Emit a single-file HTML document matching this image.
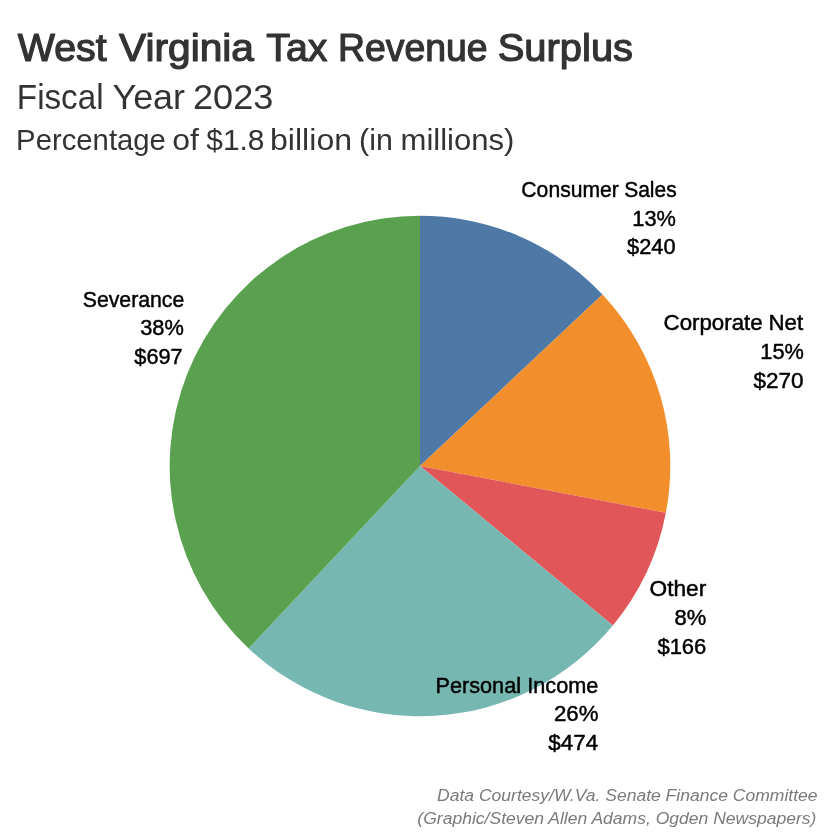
<!DOCTYPE html>
<html><head><meta charset="utf-8"><style>
html,body{margin:0;padding:0;background:#fff;width:840px;height:840px;overflow:hidden;}
svg{position:absolute;left:0;top:0;display:block;will-change:transform;font-family:"Liberation Sans",sans-serif;}
</style></head><body>
<svg width="840" height="840" viewBox="0 0 840 840">
<path fill="#4e79a7" d="M420 465.95L420.00 215.65A250.3 250.3 0 0 1 602.46 294.61Z"/>
<path fill="#f28e2b" d="M420 465.95L602.46 294.61A250.3 250.3 0 0 1 665.87 512.85Z"/>
<path fill="#e15759" d="M420 465.95L665.87 512.85A250.3 250.3 0 0 1 612.86 625.50Z"/>
<path fill="#76b7b2" d="M420 465.95L612.86 625.50A250.3 250.3 0 0 1 248.66 648.41Z"/>
<path fill="#59a14f" d="M420 465.95L248.66 648.41A250.3 250.3 0 0 1 420.00 215.65Z"/>
<g fill="#333333" stroke="#333333" stroke-width="1.2" stroke-linejoin="round">
<text x="17.72" y="61.10" font-size="38.4" textLength="88.95" lengthAdjust="spacingAndGlyphs">West</text>
<text x="118.98" y="61.10" font-size="38.4" textLength="135.05" lengthAdjust="spacingAndGlyphs">Virginia</text>
<text x="266.36" y="61.10" font-size="38.4" textLength="61.11" lengthAdjust="spacingAndGlyphs">Tax</text>
<text x="337.96" y="61.10" font-size="38.4" textLength="149.69" lengthAdjust="spacingAndGlyphs">Revenue</text>
<text x="497.75" y="61.10" font-size="38.4" textLength="135.27" lengthAdjust="spacingAndGlyphs">Surplus</text>
</g>
<g fill="#333333">
<text x="16.86" y="108.60" font-size="34.6" textLength="86.67" lengthAdjust="spacingAndGlyphs">Fiscal</text>
<text x="112.49" y="108.60" font-size="34.6" textLength="72.53" lengthAdjust="spacingAndGlyphs">Year</text>
<text x="192.94" y="108.60" font-size="34.6" textLength="80.40" lengthAdjust="spacingAndGlyphs">2023</text>
<text x="16.11" y="150.10" font-size="29.6" textLength="149.77" lengthAdjust="spacingAndGlyphs">Percentage</text>
<text x="172.17" y="150.10" font-size="29.6" textLength="26.69" lengthAdjust="spacingAndGlyphs">of</text>
<text x="206.28" y="150.10" font-size="29.6" textLength="58.21" lengthAdjust="spacingAndGlyphs">$1.8</text>
<text x="270.02" y="150.10" font-size="29.6" textLength="82.07" lengthAdjust="spacingAndGlyphs">billion</text>
<text x="359.04" y="150.10" font-size="29.6" textLength="33.78" lengthAdjust="spacingAndGlyphs">(in</text>
<text x="400.49" y="150.10" font-size="29.6" textLength="114.00" lengthAdjust="spacingAndGlyphs">millions)</text>
</g>
<g fill="#000000" stroke="#000000" stroke-width="0.45" stroke-linejoin="round">
<text x="521.36" y="197.00" font-size="21.4" textLength="97.49" lengthAdjust="spacingAndGlyphs">Consumer</text>
<text x="624.28" y="197.00" font-size="21.4" textLength="52.38" lengthAdjust="spacingAndGlyphs">Sales</text>
<text x="632.34" y="225.70" font-size="21.4" textLength="43.58" lengthAdjust="spacingAndGlyphs">13%</text>
<text x="627.07" y="254.40" font-size="21.4" textLength="48.46" lengthAdjust="spacingAndGlyphs">$240</text>
<text x="663.56" y="330.10" font-size="21.4" textLength="99.10" lengthAdjust="spacingAndGlyphs">Corporate</text>
<text x="768.42" y="330.10" font-size="21.4" textLength="34.71" lengthAdjust="spacingAndGlyphs">Net</text>
<text x="760.34" y="358.80" font-size="21.4" textLength="43.55" lengthAdjust="spacingAndGlyphs">15%</text>
<text x="753.41" y="387.50" font-size="21.4" textLength="50.02" lengthAdjust="spacingAndGlyphs">$270</text>
<text x="82.72" y="306.70" font-size="21.4" textLength="101.57" lengthAdjust="spacingAndGlyphs">Severance</text>
<text x="140.25" y="335.40" font-size="21.4" textLength="43.62" lengthAdjust="spacingAndGlyphs">38%</text>
<text x="134.38" y="364.10" font-size="21.4" textLength="48.29" lengthAdjust="spacingAndGlyphs">$697</text>
<text x="649.52" y="596.30" font-size="21.4" textLength="56.73" lengthAdjust="spacingAndGlyphs">Other</text>
<text x="674.57" y="625.00" font-size="21.4" textLength="31.77" lengthAdjust="spacingAndGlyphs">8%</text>
<text x="657.42" y="653.70" font-size="21.4" textLength="48.92" lengthAdjust="spacingAndGlyphs">$166</text>
<text x="435.52" y="692.60" font-size="21.4" textLength="85.51" lengthAdjust="spacingAndGlyphs">Personal</text>
<text x="527.26" y="692.60" font-size="21.4" textLength="71.03" lengthAdjust="spacingAndGlyphs">Income</text>
<text x="553.96" y="721.30" font-size="21.4" textLength="44.52" lengthAdjust="spacingAndGlyphs">26%</text>
<text x="548.34" y="750.00" font-size="21.4" textLength="49.79" lengthAdjust="spacingAndGlyphs">$474</text>
</g>
<g fill="#7a7a7a" font-style="italic">
<text x="436.99" y="800.70" font-size="17.4" textLength="380.62" lengthAdjust="spacingAndGlyphs">Data Courtesy/W.Va. Senate Finance Committee</text>
<text x="417.39" y="823.90" font-size="17.4" textLength="399.03" lengthAdjust="spacingAndGlyphs">(Graphic/Steven Allen Adams, Ogden Newspapers)</text>
</g>
</svg>
</body></html>
